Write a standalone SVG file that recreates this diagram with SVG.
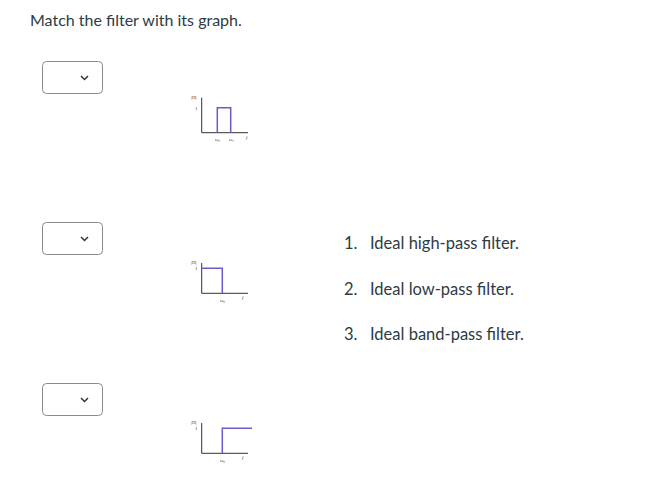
<svg xmlns="http://www.w3.org/2000/svg" width="646" height="492" viewBox="0 0 646 492">
<style>
text{font-family:Lato,"Liberation Sans",sans-serif;fill:#2d3b45}
.t{font-size:16px}
.l{font-size:16.5px}
.box{fill:#fff;stroke:#8a8a8a;stroke-width:1}
.chev{fill:none;stroke:#333;stroke-width:1.5}
.ax{stroke:#333;stroke-width:1;fill:none}
.sig{stroke:#6a5acd;stroke-width:1.5;fill:none}
.s{font-size:5px;fill:#333;font-family:"Liberation Serif",serif}
</style>
<rect width="646" height="492" fill="#fff"/>
<text class="t" x="30" y="26">Match the filter with its graph.</text>
<g id="dd1"><rect class="box" x="42.5" y="61.5" width="60" height="32" rx="4"/><path class="chev" d="M81 76l3.5 3.5 3.5-3.5"/></g>
<g id="dd2"><rect class="box" x="42.5" y="222.5" width="60" height="32" rx="4"/><path class="chev" d="M81 237l3.5 3.5 3.5-3.5"/></g>
<g id="dd3"><rect class="box" x="42.5" y="383.5" width="60" height="32" rx="4"/><path class="chev" d="M81 398l3.5 3.5 3.5-3.5"/></g>
<g id="g1">
<path class="ax" d="M201.7 97.7V132.7H248"/>
<path class="sig" d="M217.3 132.7V107.7H230.7V132.7"/>
<text class="s" x="191" y="99">|H|</text><text class="s" x="195" y="110">1</text>
<text class="s" x="215" y="141">ω₀</text><text class="s" x="229" y="141">ω₁</text><text class="s" x="246" y="139" font-style="italic">f</text>
</g>
<g id="g2">
<path class="ax" d="M201.7 263V293.3H248"/>
<path class="sig" d="M201.7 268.3H222.3V293.3"/>
<text class="s" x="191" y="264">|H|</text><text class="s" x="195" y="270">1</text>
<text class="s" x="220" y="302">ω₀</text><text class="s" x="242" y="299" font-style="italic">f</text>
</g>
<g id="g3">
<path class="ax" d="M201.7 423V453.3H248"/>
<path class="sig" d="M222.3 453.3V428.3H252"/>
<text class="s" x="191" y="424">|H|</text><text class="s" x="195" y="430">1</text>
<text class="s" x="220" y="462">ω₀</text><text class="s" x="242" y="459" font-style="italic">f</text>
</g>
<g id="list">
<text class="l" x="344" y="249">1.</text><text class="l" x="370" y="249">Ideal high-pass filter.</text>
<text class="l" x="344" y="295">2.</text><text class="l" x="370" y="295">Ideal low-pass filter.</text>
<text class="l" x="344" y="340">3.</text><text class="l" x="370" y="340">Ideal band-pass filter.</text>
</g>
<g id="connectors"/>
</svg>
